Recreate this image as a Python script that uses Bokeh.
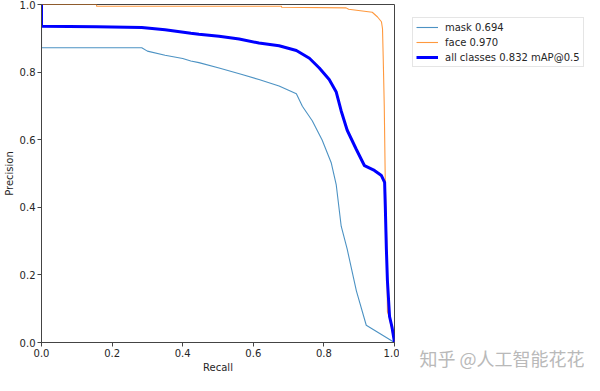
from bokeh.plotting import figure
from bokeh.layouts import row
from bokeh.models import (Legend, LegendItem, Title, Range1d, FixedTicker,
                          PrintfTickFormatter)
from bokeh.embed import file_html
from bokeh.resources import INLINE

# ---- data ----
mask_recall = [0.0, 0.0, 0.284, 0.30, 0.35, 0.40, 0.423, 0.446, 0.503, 0.568, 0.616, 0.673,
               0.722, 0.739, 0.767, 0.795, 0.821, 0.835, 0.849, 0.866, 0.892, 0.920, 1.0]
mask_precision = [1.0, 0.872, 0.872, 0.862, 0.850, 0.840, 0.833, 0.828, 0.812, 0.793, 0.778, 0.759,
                  0.736, 0.699, 0.656, 0.599, 0.531, 0.466, 0.344, 0.276, 0.153, 0.051, 0.0]

face_recall = [0.0, 0.156, 0.156, 0.68, 0.68, 0.863, 0.87, 0.937, 0.952, 0.963, 0.966, 0.968,
               0.971, 0.974, 0.978, 0.98, 0.985, 0.99, 1.0]
face_precision = [1.0, 1.0, 0.995, 0.995, 0.992, 0.99, 0.986, 0.977, 0.963, 0.949, 0.929, 0.844,
                  0.70, 0.466, 0.30, 0.09, 0.077, 0.048, 0.0]

all_recall = [0.0, 0.0, 0.156, 0.284, 0.35, 0.423, 0.446, 0.503, 0.560, 0.616, 0.673, 0.722,
              0.759, 0.787, 0.815, 0.835, 0.849, 0.866, 0.892, 0.915, 0.943, 0.963, 0.972,
              0.974, 0.977, 0.980, 0.986, 0.993, 1.0]
all_precision = [1.0, 0.936, 0.934, 0.932, 0.925, 0.915, 0.912, 0.906, 0.898, 0.886, 0.878, 0.864,
                 0.841, 0.812, 0.778, 0.741, 0.685, 0.628, 0.571, 0.523, 0.509, 0.494, 0.474,
                 0.40, 0.276, 0.182, 0.077, 0.045, 0.0]

labels = ["mask 0.694", "face 0.970", "all classes 0.832 mAP@0.5"]
ticks = [0.0, 0.2, 0.4, 0.6, 0.8, 1.0]
watermark = "知乎 @人工智能花花"

FONT = "DejaVu Sans"
TXT = "#262626"
C_MASK = "#1f77b4"
C_FACE = "#ff7f0e"
C_ALL = "#0000ff"

# ---- main PR plot ----
p = figure(width=399, height=375, output_backend="svg", toolbar_location=None,
           x_range=Range1d(0, 1), y_range=Range1d(0, 1),
           min_border_top=4, min_border_left=0, min_border_bottom=0, min_border_right=5)

p.background_fill_color = "white"
p.border_fill_color = "white"
p.outline_line_color = "#444444"
p.outline_line_width = 1
p.xgrid.visible = False
p.ygrid.visible = False

for ax in (p.xaxis[0], p.yaxis[0]):
    ax.ticker = FixedTicker(ticks=ticks)
    ax.formatter = PrintfTickFormatter(format="%.1f")
    ax.minor_tick_line_color = None
    ax.major_tick_out = 4
    ax.major_tick_in = 0
    ax.axis_line_color = "#444444"
    ax.major_tick_line_color = "#444444"
    ax.major_label_text_font = FONT
    ax.major_label_text_font_size = "10px"
    ax.major_label_text_color = TXT
    ax.axis_label_text_font = FONT
    ax.axis_label_text_font_size = "10px"
    ax.axis_label_text_font_style = "normal"
    ax.axis_label_text_color = TXT
    ax.major_label_standoff = 2
    ax.axis_label_standoff = 2

p.xaxis.axis_label = "Recall"
p.yaxis.axis_label = "Precision"

p.line(mask_recall, mask_precision, line_color=C_MASK, line_width=1.1, line_alpha=0.8)
p.line(face_recall, face_precision, line_color=C_FACE, line_width=1.1, line_alpha=0.8)
p.line(all_recall, all_precision, line_color=C_ALL, line_width=3)

# ---- side panel: legend + watermark ----
# ranges chosen so the proxy lines themselves fall outside the visible area
side = figure(width=185, height=375, output_backend="svg", toolbar_location=None,
              x_axis_location=None, y_axis_location=None,
              x_range=Range1d(10, 11), y_range=Range1d(10, 11),
              min_border_top=4, min_border_left=0, min_border_bottom=0, min_border_right=0)
side.outline_line_color = None
side.xgrid.visible = False
side.ygrid.visible = False

l_mask = side.line(mask_recall, mask_precision, line_color=C_MASK, line_width=1.1, line_alpha=0.8)
l_face = side.line(face_recall, face_precision, line_color=C_FACE, line_width=1.1, line_alpha=0.8)
l_all = side.line(all_recall, all_precision, line_color=C_ALL, line_width=3)

legend = Legend(items=[LegendItem(label=labels[0], renderers=[l_mask]),
                       LegendItem(label=labels[1], renderers=[l_face]),
                       LegendItem(label=labels[2], renderers=[l_all])],
                location="top_left")
legend.label_text_font = FONT
legend.label_text_font_size = "10px"
legend.label_text_color = TXT
legend.glyph_width = 22
legend.glyph_height = 12
legend.label_height = 12
legend.label_standoff = 7
legend.spacing = 3
legend.padding = 3
legend.margin = 13
legend.border_line_color = "#cccccc"
legend.border_line_width = 1
legend.background_fill_color = "white"
side.add_layout(legend)

wm = Title(text=watermark, align="left", offset=20, standoff=0,
           text_font="Noto Sans CJK SC", text_font_size="18px",
           text_font_style="normal", text_color="#b9b9b9")
side.add_layout(wm, "below")

layout = row(p, side)
open("out.html", "w").write(file_html(layout, INLINE))
